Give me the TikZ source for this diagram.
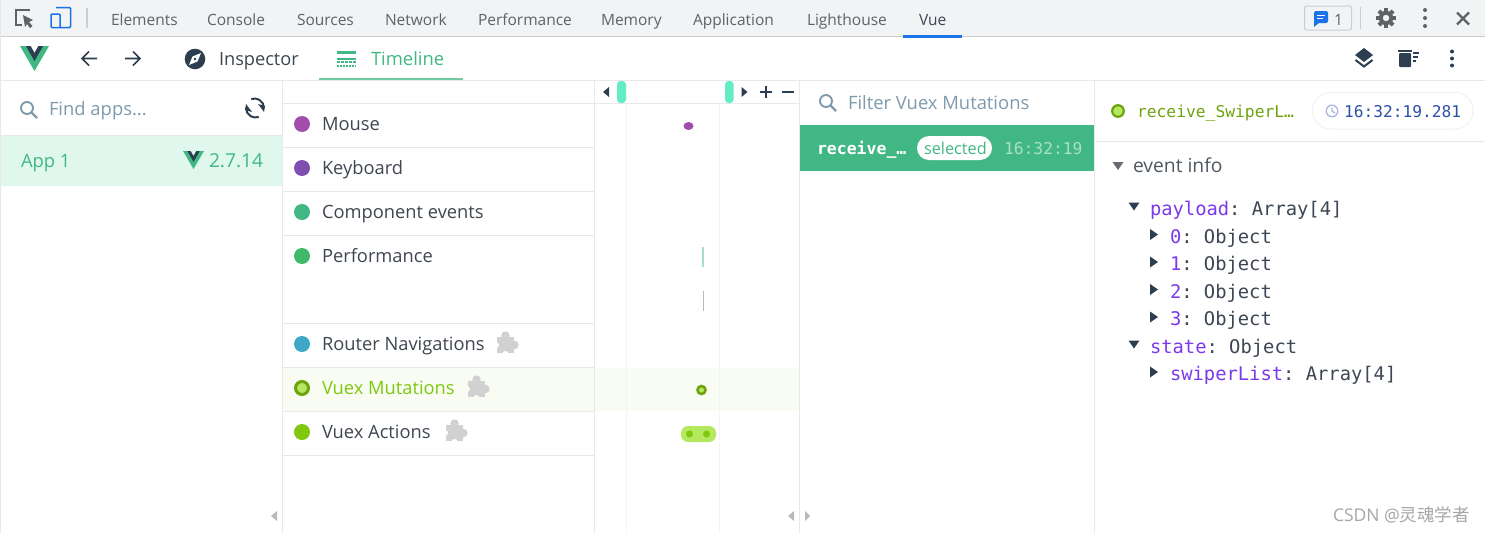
\documentclass[tikz,border=0pt]{standalone}
\usepackage{fontspec}
\setmainfont{Open Sans}
\newfontfamily\monof{DejaVu Sans Mono}
\newfontfamily\cjkf{Noto Sans CJK SC}
\frenchspacing
\newcommand{\fs}[1]{\fontsize{#1}{#1}\selectfont}
\definecolor{vgreen}{HTML}{41B883}
\definecolor{vdark}{HTML}{2C3E50}
\definecolor{linec}{HTML}{E6E8EB}
\definecolor{tabc}{HTML}{5F6368}
\definecolor{searchc}{HTML}{7E9BAD}
\definecolor{textc}{HTML}{3F4650}
\definecolor{keyc}{HTML}{7C3AED}
\definecolor{valc}{HTML}{3C4654}
\definecolor{limec}{HTML}{7EC810}
\definecolor{limed}{HTML}{6EA30F}
\definecolor{limel}{HTML}{B3E85F}
\definecolor{gridc}{HTML}{F3F4F5}
\definecolor{barbg}{HTML}{F1F3F4}
\definecolor{barline}{HTML}{CBCDD1}
\definecolor{apprbg}{HTML}{E0F7ED}
\definecolor{rowbg}{HTML}{F8FCF3}
\definecolor{handle}{HTML}{64ECC4}
\definecolor{gblue}{HTML}{1A73E8}
\tikzset{
 txt/.style={anchor=base west,inner sep=0pt,outer sep=0pt},
 tab/.style={txt,font=\fs{15.5},text=tabc},
 layer/.style={txt,font=\fs{18.3},text=textc},
 tree/.style={txt,font=\monof\fs{18.8},text=valc},
 sep/.style={draw=linec,line width=1pt},
 pics/vuelogo/.style={code={
   \fill[vgreen] (-14.5,-12.5)--(14.5,-12.5)--(0,12.5)--cycle;
   \fill[vdark] (-8.6,-12.5)--(8.6,-12.5)--(0,2.5)--cycle;
   \fill[#1] (-3.8,-12.6)--(3.8,-12.6)--(0,-6)--cycle;
 }},
 pics/puzzle/.style={code={
   \fill[black!18] (-10,-5) rectangle (7,11);
   \fill[black!18] (-1.5,-6.5) circle (4.2pt);
   \fill[black!18] (7.5,3) circle (4.2pt);
   \fill[#1] (-11,3) circle (3pt);
   \fill[#1] (-1.5,12) circle (3pt);
 }},
 pics/searchicon/.style={code={
   \draw[searchc,line width=1.9pt] (-2,-2) circle (6pt);
   \draw[searchc,line width=2.2pt] (2.5,2.5)--(8,8);
 }},
}
\newcommand{\tridown}[3]{\fill[#3] (#1-5.5,#2-4)--(#1+5.5,#2-4)--(#1,#2+4)--cycle;}
\newcommand{\triright}[3]{\fill[#3] (#1-4,#2-5.5)--(#1-4,#2+5.5)--(#1+4,#2)--cycle;}
\newcommand{\trileft}[3]{\fill[#3] (#1+3,#2-5)--(#1+3,#2+5)--(#1-3,#2)--cycle;}
\begin{document}
\begin{tikzpicture}[x=1pt,y=-1pt]
\useasboundingbox (0,0) rectangle (1485,533);
\fill[white] (0,0) rectangle (1485,533);
% devtools bar
\fill[barbg] (0,0) rectangle (1485,37);
\draw[barline,line width=1pt] (0,36.5)--(1485,36.5);
\draw[linec,line width=1pt] (0.5,0)--(0.5,533);
% inspect icon
\draw[tabc,line width=1.6pt] (30,10)--(16,10)--(16,25)--(22,25);
\fill[tabc] (23,15)--(33,20)--(29,22)--(32.5,26)--(30,28)--(27,24)--(25,27)--cycle;
% device icon
\draw[gblue,line width=1.5pt,rounded corners=1pt] (56,7.5)--(70.5,7.5)--(70.5,27.5)--(51,27.5)--(51,14)--(60,14)--(60,27.5);
\draw[barline,line width=1.5pt] (87,8)--(87,28);
\node[tab] (t1) at (111,25) {Elements};
\node[tab] (t2) at (207,25) {Console};
\node[tab] (t3) at (297,25) {Sources};
\node[tab] (t4) at (385,25) {Network};
\node[tab] (t5) at (478,25) {Performance};
\node[tab] (t6) at (601,25) {Memory};
\node[tab] (t7) at (693,25) {Application};
\node[tab] (t8) at (807,25) {Lighthouse};
\node[tab,text=valc] (t9) at (919,25) {Vue};
\fill[gblue] (903,35) rectangle (962,37.5);
% issue badge
\draw[barline,line width=1pt,rounded corners=2pt] (1304.5,6)rectangle(1351.5,30);
\fill[gblue,rounded corners=2pt] (1314,11) rectangle (1328,23);
\fill[gblue] (1314,21)--(1314,27)--(1320,22)--cycle;
\draw[white,line width=1pt] (1317,15)--(1325,15) (1317,18.5)--(1323,18.5);
\node[tab] (badge) at (1334,25) {1};
\draw[barline,line width=1pt] (1360.5,7)--(1360.5,29);
% gear
\draw[tabc,line width=4pt] (1386,18) circle (5.5pt);
\foreach \a in {0,45,...,315}{\fill[tabc,shift={(1386,18)},rotate=\a] (-2,-10)rectangle(2,-6);}
% kebab
\foreach \yy in {10,18,26}{\fill[tabc] (1425,\yy) circle (2pt);}
\draw[tabc,line width=2.2pt] (1457,12.5)--(1469,24.5) (1469,12.5)--(1457,24.5);
% toolbar
\draw[sep] (0,80.5)--(1485,80.5);
\pic[scale=1] at (34.5,58.5) {vuelogo=white};
\draw[vdark,line width=1.6pt] (97,58.5)--(82,58.5) (89,51.5)--(82,58.5)--(89,65.5);
\draw[vdark,line width=1.6pt] (125,58.5)--(140,58.5) (133,51.5)--(140,58.5)--(133,65.5);
\fill[vdark] (195,59) circle (10.3pt);
\fill[white] (201,53)--(197.5,61.5)--(189,65)--(192.5,56.5)--cycle;
\fill[vdark] (195,59) circle (1.4pt);
\node[txt,font=\fs{18.2},text=textc] (insp) at (219,65) {Inspector};
\foreach \yy in {51,57.5}{\fill[vgreen] (337,\yy) rectangle (356,\yy+2.5);}
\draw[vgreen,line width=1.5pt,dash pattern=on 3pt off 1pt] (337,62)--(356,62);
\draw[vgreen,line width=1.5pt,dash pattern=on 2pt off 1pt] (337,66)--(356,66);
\node[txt,font=\fs{18.4},text=vgreen] (timel) at (371,65) {Timeline};
\fill[color=vgreen!75] (319,78) rectangle (463,80);
% toolbar right
\fill[vdark] (1364,48)--(1373,55)--(1364,62)--(1355,55)--cycle;
\draw[vdark,line width=2pt] (1355.5,60)--(1364,66.5)--(1372.5,60);
\fill[vdark,rounded corners=1pt] (1399,53) rectangle (1411,67);
\fill[vdark] (1398,50) rectangle (1412,52);
\draw[vdark,line width=1.5pt] (1413,53)--(1419,53) (1413,57)--(1418,57) (1413,61)--(1416,61);
\foreach \yy in {51.5,58.5,65.5}{\fill[vdark] (1452,\yy) circle (2pt);}
% left panel
\draw[sep] (282.5,81)--(282.5,533);
\pic at (29,110) {searchicon};
\node[txt,font=\fs{18.4},text=searchc] (find) at (49,115) {Find apps...};
\draw[vdark,line width=2pt] (246,108) arc (180:290:9.5pt) (264,108) arc (0:110:9.5pt);
\fill[vdark] (245,110)--(252,112)--(246,104)--cycle;
\fill[vdark] (265,106)--(258,104)--(264,112)--cycle;
\fill[apprbg] (1,136) rectangle (282,186);
\draw[sep] (1,135.5)--(282,135.5);
\node[txt,font=\fs{18.4},text=vgreen] (app) at (21,167) {App 1};
\pic[scale=0.72] at (193.5,160) {vuelogo=apprbg};
\node[txt,font=\fs{19.2},text=vgreen] (ver) at (209,167) {2.7.14};
\trileft{274}{516}{gray!55}
% highlight row
\fill[rowbg] (283,368) rectangle (799,411);
% grid lines
\draw[gridc,line width=1pt] (626.5,104)--(626.5,533) (719.5,104)--(719.5,533);
% rows
\foreach \yy in {147,191,235,323,367,411,455}{\draw[sep] (283,\yy.5)--(594,\yy.5);}
\draw[sep] (283,103.5)--(799,103.5);
\draw[sep] (594.5,81)--(594.5,533);
\draw[sep] (799.5,81)--(799.5,533);
\draw[sep] (1094.5,81)--(1094.5,533);
% layers
\fill[color={rgb,255:red,164;green,76;blue,171}] (302,124) circle (8pt);
\node[layer] (l1) at (322,130) {Mouse};
\fill[color={rgb,255:red,126;green,78;blue,176}] (302,168) circle (8pt);
\node[layer] (l2) at (322,174) {Keyboard};
\fill[vgreen] (302,212) circle (8pt);
\node[layer] (l3) at (322,218) {Component events};
\fill[color={rgb,255:red,65;green,184;blue,106}] (302,256) circle (8pt);
\node[layer] (l4) at (322,262) {Performance};
\fill[color={rgb,255:red,62;green,168;blue,200}] (302,344) circle (8pt);
\node[layer] (l5) at (322,350) {Router Navigations};
\pic at (507,342) {puzzle=white};
\draw[limed,fill=limel,line width=3pt] (302,388) circle (6.5pt);
\node[layer,text=limec] (l6) at (322,394) {Vuex Mutations};
\pic at (478,386) {puzzle=rowbg};
\fill[limec] (302,432) circle (8pt);
\node[layer] (l7) at (322,438) {Vuex Actions};
\pic at (456,430) {puzzle=white};
% timeline controls
\fill[handle,rounded corners=3.5pt] (617,81) rectangle (626,103);
\fill[handle,rounded corners=3.5pt] (725,81) rectangle (733.5,103);
\trileft{606}{92}{vdark}
\fill[vdark] (741.5,87)--(741.5,97)--(747.5,92)--cycle;
\draw[vdark,line width=1.6pt] (760,92)--(772,92) (766,86)--(766,98) (782,92)--(794,92);
% events
\fill[color={rgb,255:red,164;green,76;blue,171}] (688.5,126) ellipse (5pt and 4pt);
\draw[color=vgreen!45,line width=2pt] (702.5,247)--(702.5,267);
\draw[color=gray!55,line width=1pt] (703.5,291)--(703.5,311);
\draw[limed,fill=limel,line width=2.6pt] (701.5,390) circle (4pt);
\fill[limel,rounded corners=7pt] (681,426) rectangle (716,442);
\fill[limec] (689.5,434) circle (3.5pt) (706.5,434) circle (3.5pt);
% mutations list
\pic at (828,103) {searchicon};
\node[txt,font=\fs{18.4},text=searchc] (filt) at (848,109) {Filter Vuex Mutations};
\fill[vgreen] (800,125) rectangle (1094,171);
\node[txt,font=\monof\bfseries\fs{16.5},text=white] (rec) at (817,154) {receive\_…};
\fill[white,rounded corners=12pt] (917,136) rectangle (992,160);
\node[txt,font=\fs{16.3},text=vgreen] (sel) at (924,154) {selected};
\node[txt,font=\monof\fs{16.3},text=white!55!vgreen] (tm) at (1004,154) {16:32:19};
% right panel
\draw[sep] (1095,141.5)--(1485,141.5);
\draw[limed,fill=limel,line width=2.2pt] (1118,111) circle (5.8pt);
\node[txt,font=\monof\fs{16.3},text=limed] (rs) at (1137,117) {receive\_SwiperL…};
\draw[color=linec!60,fill=white,line width=1pt,rounded corners=18pt] (1312.5,92.5) rectangle (1473,129);
\draw[color={rgb,255:red,169;green,184;blue,219},line width=1.3pt] (1332,111) circle (5.8pt) (1332,107.5)--(1332,111)--(1335,113);
\node[txt,font=\monof\fs{16.2},text={rgb,255:red,44;green,79;blue,168}] (clock) at (1344,117) {16:32:19.281};
\tridown{1118}{166}{gray!70!vdark}
\node[txt,font=\fs{19.3},text=gray!40!vdark] (evi) at (1133,172) {event info};
\tridown{1134}{206.5}{vdark}
\node[tree] (k1) at (1150,215) {\textcolor{keyc}{payload}: Array[4]};
\triright{1154}{234.5}{vdark}
\node[tree] (k2) at (1170,243) {\textcolor{keyc}{0}: Object};
\triright{1154}{262}{vdark}
\node[tree] (k3) at (1170,270) {\textcolor{keyc}{1}: Object};
\triright{1154}{289.5}{vdark}
\node[tree] (k4) at (1170,298) {\textcolor{keyc}{2}: Object};
\triright{1154}{317}{vdark}
\node[tree] (k5) at (1170,325) {\textcolor{keyc}{3}: Object};
\tridown{1134}{344.5}{vdark}
\node[tree] (k6) at (1150,353) {\textcolor{keyc}{state}: Object};
\triright{1154}{372}{vdark}
\node[tree] (k7) at (1170,380) {\textcolor{keyc}{swiperList}: Array[4]};
% bottom handles
\trileft{791}{516}{gray!55}
\fill[color=gray!55] (805,511)--(805,521)--(810,516)--cycle;
\node[txt,font=\fs{17.5},text=gray!70] (wm) at (1333,521.5) {CSDN @{\cjkf 灵魂学者}};
\end{tikzpicture}
\end{document}
